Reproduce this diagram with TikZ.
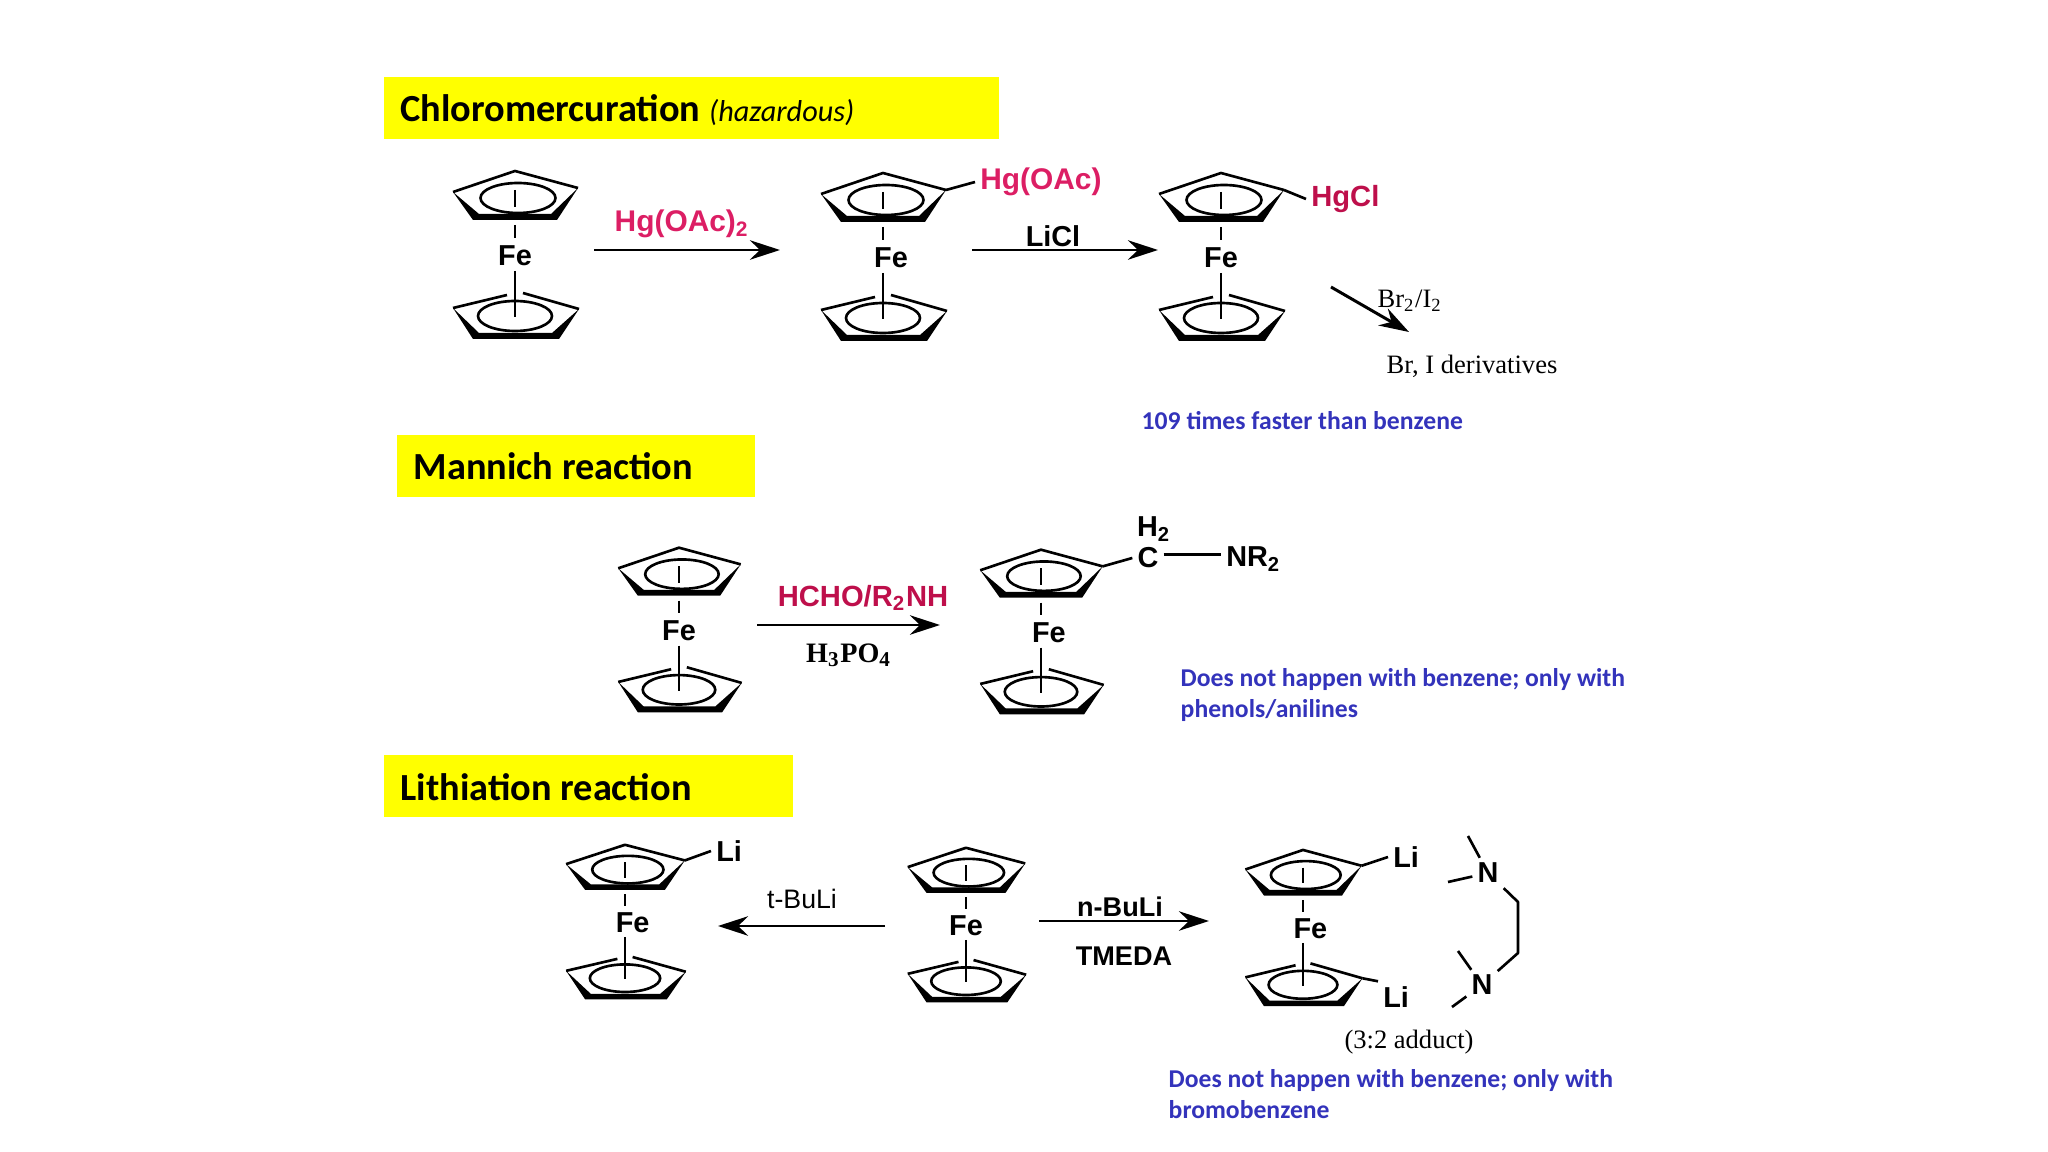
\documentclass[tikz,border=0pt]{standalone}
\usepackage{fontspec}
\setmainfont{Liberation Sans}
\newfontfamily\headfont{Carlito}
\newfontfamily\timesfont{Liberation Serif}
\usetikzlibrary{arrows.meta}

\definecolor{bannercol}{HTML}{FFFF00}
\definecolor{pinkcol}{HTML}{DC1E64}
\definecolor{redcol}{HTML}{BE0F4B}
\definecolor{bluecol}{HTML}{3333BB}

\tikzset{
    bond/.style={line width=0.75pt},
    rarrow/.style={line width=0.85pt,-{Stealth[length=8.5pt,width=5.5pt]}},
    atom/.style={inner sep=0pt,outer sep=1.5pt,font=\bfseries\fontsize{8.2}{10}\selectfont},
    smallatom/.style={atom,font=\bfseries\fontsize{7.7}{10}\selectfont},
    redlabel/.style={inner sep=0pt,outer sep=1.5pt,text=redcol,font=\bfseries\fontsize{8.3}{10}\selectfont},
    pinklabel/.style={inner sep=0pt,outer sep=1.5pt,text=pinkcol,font=\bfseries\fontsize{8.5}{10}\selectfont},
    serif/.style={inner sep=0pt,font=\timesfont\fontsize{7.55}{9}\selectfont},
    banner/.style={fill=bannercol,draw=none},
    heading/.style={inner sep=0pt,anchor=base west,font=\headfont\bfseries\fontsize{10.9}{13}\selectfont},
    note/.style={inner sep=0pt,anchor=base west,text=bluecol,font=\headfont\bfseries\fontsize{7.3}{9}\selectfont},
    pics/ferrocene/.style={code={
        \draw[bond,line join=round] (-62,-64) -- (0,-85) -- (63,-68);
        \fill (-62,-64) -- (-42,-36) -- (42,-36) -- (63,-68) -- (36,-42) -- (-36,-42) -- cycle;
        \draw[bond] (3,-58) ellipse [x radius=37.5,y radius=15];
        \draw[bond] (0,-66) -- (0,-49);
        \draw[bond] (0,-31) -- (0,-18);
        \node[atom] (-fe) at (#1,0) {Fe};
        \draw[bond] (0,15) -- (0,61);
        \draw[bond,line join=round] (-8,39) -- (-62,52);
        \draw[bond,line join=round] (8,37) -- (64,53);
        \fill (-62,52) -- (-42,83) -- (44,83) -- (64,53) -- (37,77) -- (-36,77) -- cycle;
        \draw[bond] (0,60) ellipse [x radius=37,y radius=15];
        \coordinate (-top) at (63,-68);
        \coordinate (-bot) at (64,53);
    }}
}

\begin{document}
\begin{tikzpicture}[x=0.01cm,y=-0.01cm]
    \useasboundingbox (0,0) rectangle (2048,1152);

    % chloromercuration
    \fill[banner] (384,77) rectangle (999,139);
    \node[heading] (head1) at (400,122) {Chloromercuration {\mdseries\itshape\fontsize{8.6}{13}\selectfont (hazardous)}};

    \pic (fc1) at (515,256) {ferrocene=0};
    \pic (fc2) at (883,258) {ferrocene=8};
    \pic (fc3) at (1221,258) {ferrocene=0};

    \coordinate (a1s) at (594,250);
    \coordinate (a1e) at (780,250);
    \draw[rarrow] (a1s) -- (a1e);
    \node[pinklabel] (reag1) at (682,224) {Hg(OAc)\textsubscript{2}};

    \coordinate (a2s) at (972,250);
    \coordinate (a2e) at (1158,250);
    \draw[rarrow] (a2s) -- (a2e);
    \node[atom] (licl) at (1053,236) {LiCl};

    \node[pinklabel,anchor=west] (hgoac) at (975,182) {Hg(OAc)};
    \draw[bond] (fc2-top) -- (hgoac.west);
    \node[redlabel,anchor=west] (hgcl) at (1306,199) {HgCl};
    \draw[bond] (fc3-top) -- (hgcl.west);

    \coordinate (a3s) at (1331,287);
    \coordinate (a3e) at (1409,332);
    \draw[rarrow] (a3s) -- (a3e);
    \node[serif] (brreag) at (1410,301) {Br\textsubscript{2}/I\textsubscript{2}};
    \node[serif] (brprod) at (1472,366) {Br, I derivatives};
    \node[note] (note1) at (1141,430) {109 times faster than benzene};

    % mannich
    \fill[banner] (397,435) rectangle (755,497);
    \node[heading] (head2) at (413,480) {Mannich reaction};

    \pic[scale=0.98] (fc4) at (679,631) {ferrocene=0};
    \pic[scale=0.98] (fc5) at (1041,633) {ferrocene=8};

    \coordinate (a4s) at (757,625);
    \coordinate (a4e) at (940,625);
    \draw[rarrow] (a4s) -- (a4e);
    \node[redlabel] (reag2) at (863,598) {HCHO/R\textsubscript{2}NH};
    \node[serif,font=\timesfont\bfseries\fontsize{8}{9}\selectfont] (acid) at (849,655) {H\textsubscript{3}PO\textsubscript{4}};

    \node[atom] (h2) at (1154,529) {H\textsubscript{2}};
    \node[atom] (ch) at (1148,558) {C};
    \node[atom,anchor=west] (nr2) at (1221,559) {NR\textsubscript{2}};
    \draw[bond] (fc5-top) -- (ch.west);
    \draw[bond] ([yshift=1pt]ch.east) -- ([yshift=1pt]ch.east -| nr2.west);
    \node[note] (note2a) at (1180,686) {Does not happen with benzene; only with};
    \node[note] (note2b) at (1180,717) {phenols/anilines};

    % lithiation
    \fill[banner] (384,755) rectangle (793,817);
    \node[heading] (head3) at (400,800) {Lithiation reaction};

    \pic[xscale=0.95,yscale=0.92] (fc6) at (625,923) {ferrocene=8};
    \pic[xscale=0.94,yscale=0.92] (fc7) at (966,926) {ferrocene=0};
    \pic[scale=0.93] (fc8) at (1303,929) {ferrocene=8};

    \node[atom,anchor=west] (li1) at (711,851) {Li};
    \draw[bond] (fc6-top) -- (li1.west);

    \coordinate (a5s) at (885,926);
    \coordinate (a5e) at (718,926);
    \draw[rarrow] (a5s) -- (a5e);
    \node[inner sep=0pt,font=\fontsize{7.6}{9}\selectfont] (tbuli) at (802,899) {t-BuLi};

    \coordinate (a6s) at (1039,921);
    \coordinate (a6e) at (1209,921);
    \draw[rarrow] (a6s) -- (a6e);
    \node[smallatom] (nbuli) at (1120,907) {n-BuLi};
    \node[smallatom] (tmeda) at (1124,956) {TMEDA};

    \node[atom,anchor=west] (li2) at (1388,857) {Li};
    \draw[bond] (fc8-top) -- (li2.west);
    \node[atom,anchor=west] (li3) at (1378,997) {Li};
    \draw[bond] (fc8-bot) -- (li3.north west);

    \node[atom] (n1) at (1488,873) {N};
    \node[atom] (n2) at (1482,985) {N};
    \coordinate (me1) at (1468,836);
    \coordinate (me2) at (1448,882);
    \coordinate (me3) at (1458,951);
    \coordinate (me4) at (1452,1007);
    \draw[bond] (me1) -- (n1);
    \draw[bond] (me2) -- (n1);
    \draw[bond,line join=round] (n1) -- (1518,902) -- (1518,953) -- (n2);
    \draw[bond] (me3) -- (n2);
    \draw[bond] (me4) -- (n2);
    \node[serif] (adduct) at (1409,1042) {(3:2 adduct)};
    \node[note] (note3a) at (1168,1087) {Does not happen with benzene; only with};
    \node[note] (note3b) at (1168,1118) {bromobenzene};
\end{tikzpicture}
\end{document}
